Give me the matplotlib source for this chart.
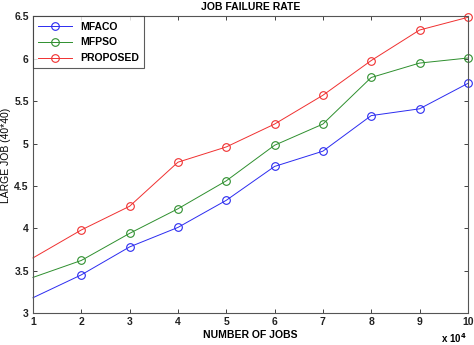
import matplotlib
matplotlib.use("Agg")
import matplotlib.pyplot as plt

plt.rcParams["font.family"] = ["Liberation Sans", "DejaVu Sans"]
plt.rcParams["font.weight"] = "bold"

# number of jobs, in units of 10^4
jobs = [1, 2, 3, 4, 5, 6, 7, 8, 9, 10]

mfaco = [3.18, 3.45, 3.78, 4.01, 4.33, 4.73, 4.91, 5.33, 5.41, 5.71]
mfpso = [3.42, 3.62, 3.94, 4.23, 4.56, 4.98, 5.23, 5.78, 5.95, 6.01]
proposed = [3.65, 3.98, 4.26, 4.78, 4.96, 5.23, 5.57, 5.98, 6.34, 6.49]

series = [
	("MFACO", mfaco, "#2b2bf0"),
	("MFPSO", mfpso, "#2e8f2e"),
	("PROPOSED", proposed, "#f03030"),
]

fig = plt.figure(figsize=(4.74, 3.45), dpi=100)
ax = fig.add_axes([0.0696, 0.0928, 0.9174, 0.8594])

for name, values, color in series:
	ax.plot(jobs, values, color=color, linewidth=0.7, marker="o", markersize=5.5,
		markerfacecolor="none", markeredgewidth=0.8, markevery=range(1, len(jobs)),
		label=name, clip_on=False)

ax.set_xlim(1, 10)
ax.set_ylim(3, 6.5)
ax.set_xticks(jobs)
ax.set_yticks([3, 3.5, 4, 4.5, 5, 5.5, 6, 6.5])
ax.set_yticklabels(["3", "3.5", "4", "4.5", "5", "5.5", "6", "6.5"])

ax.tick_params(direction="in", top=True, right=True, length=3, width=0.6,
	labelsize=7.5, pad=3, colors="#222222")
for spine in ax.spines.values():
	spine.set_linewidth(0.8)
	spine.set_color("#555555")

ax.set_title("JOB FAILURE RATE", fontsize=7.5, fontweight="bold", pad=5)
ax.set_xlabel("NUMBER OF JOBS", fontsize=7.5, fontweight="bold", labelpad=2)
ax.set_ylabel("LARGE JOB (40*40)", fontsize=7.5, fontweight="normal")
ax.yaxis.set_label_coords(-0.05, 0.53)

fig.text(0.985, 0.0, r"x 10$^4$", fontsize=7, fontweight="bold", ha="right", va="bottom")

leg = ax.legend(loc="upper left", fontsize=7.5, frameon=True, fancybox=False,
	borderaxespad=0, handlelength=3.2, borderpad=0.5, labelspacing=0.55)
leg.get_frame().set_edgecolor("#333333")
leg.get_frame().set_linewidth(0.8)
for t in leg.get_texts():
	t.set_fontweight("bold")

fig.savefig("out.png", dpi=100)
